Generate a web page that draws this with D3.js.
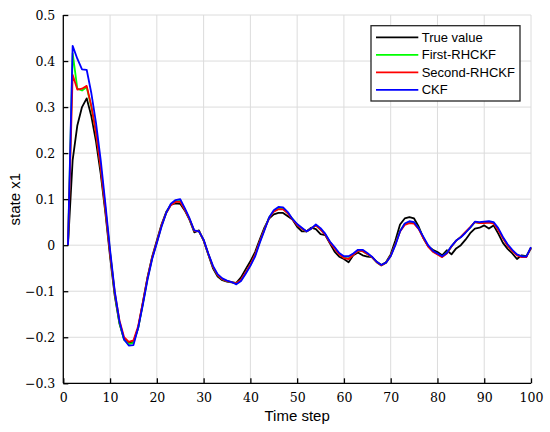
<!DOCTYPE html>
<html>
<head>
<meta charset="utf-8">
<script src="https://cdn.jsdelivr.net/npm/d3@7"></script>
<style>
  html, body { margin: 0; padding: 0; background: #fff; }
  svg { display: block; }
</style>
</head>
<body>
<svg id="chart" width="550" height="432"></svg>
<script>
// ---- Data (time steps 1..100) ----
const timeSteps = d3.range(1, 101);

const trueValue = [
  0, 0.185, 0.26, 0.30, 0.319, 0.28, 0.225, 0.155, 0.07, -0.025,
  -0.11, -0.17, -0.205, -0.213, -0.21, -0.18, -0.125, -0.07, -0.025, 0.01,
  0.045, 0.072, 0.088, 0.091, 0.09, 0.075, 0.055, 0.028, 0.032, 0.01,
  -0.02, -0.05, -0.068, -0.076, -0.079, -0.081, -0.082, -0.07, -0.052, -0.035,
  -0.015, 0.012, 0.038, 0.058, 0.067, 0.07, 0.07, 0.063, 0.056, 0.04,
  0.03, 0.03, 0.038, 0.035, 0.024, 0.022, 0.004, -0.014, -0.025, -0.03,
  -0.037, -0.022, -0.016, -0.022, -0.025, -0.026, -0.036, -0.043, -0.037, -0.02,
  0.01, 0.045, 0.058, 0.061, 0.058, 0.04, 0.015, -0.002, -0.01, -0.015,
  -0.022, -0.011, -0.02, -0.007, 0.0, 0.012, 0.026, 0.036, 0.038, 0.043,
  0.036, 0.043, 0.025, 0.005, -0.008, -0.018, -0.03, -0.022, -0.024, -0.007
];

const firstRHCKF = [
  0, 0.417, 0.34, 0.336, 0.343, 0.3, 0.245, 0.17, 0.08, -0.015,
  -0.105, -0.168, -0.205, -0.215, -0.212, -0.18, -0.128, -0.073, -0.028, 0.006,
  0.042, 0.07, 0.088, 0.095, 0.096, 0.078, 0.056, 0.031, 0.03, 0.011,
  -0.019, -0.047, -0.065, -0.074, -0.078, -0.08, -0.083, -0.076, -0.06, -0.043,
  -0.022, 0.007, 0.034, 0.06, 0.074, 0.079, 0.079, 0.07, 0.057, 0.045,
  0.036, 0.03, 0.036, 0.043, 0.034, 0.024, 0.007, -0.006, -0.019, -0.027,
  -0.029, -0.02, -0.012, -0.013, -0.019, -0.026, -0.037, -0.044, -0.038, -0.023,
  0.002, 0.031, 0.046, 0.05, 0.049, 0.036, 0.016, -0.002, -0.013, -0.019,
  -0.025, -0.017, -0.003, 0.01, 0.018, 0.028, 0.038, 0.05, 0.048, 0.049,
  0.05, 0.048, 0.034, 0.016, 0.0, -0.012, -0.021, -0.025, -0.025, -0.005
];

const secondRHCKF = [
  0, 0.37, 0.338, 0.34, 0.346, 0.302, 0.243, 0.168, 0.078, -0.018,
  -0.103, -0.163, -0.2, -0.21, -0.207, -0.176, -0.125, -0.071, -0.027, 0.007,
  0.043, 0.07, 0.087, 0.094, 0.094, 0.077, 0.056, 0.031, 0.03, 0.011,
  -0.019, -0.047, -0.065, -0.074, -0.078, -0.08, -0.083, -0.075, -0.059, -0.042,
  -0.021, 0.008, 0.034, 0.059, 0.073, 0.078, 0.078, 0.069, 0.056, 0.044,
  0.036, 0.03, 0.036, 0.043, 0.034, 0.023, 0.006, -0.007, -0.02, -0.028,
  -0.03, -0.021, -0.012, -0.013, -0.019, -0.026, -0.037, -0.044, -0.038, -0.023,
  0.002, 0.03, 0.044, 0.048, 0.047, 0.035, 0.015, -0.003, -0.014, -0.02,
  -0.026, -0.018, -0.003, 0.01, 0.018, 0.029, 0.039, 0.05, 0.048, 0.048,
  0.049, 0.047, 0.033, 0.015, -0.001, -0.013, -0.022, -0.026, -0.026, -0.005
];

const ckf = [
  0, 0.433, 0.405, 0.382, 0.381, 0.33, 0.265, 0.185, 0.09, -0.01,
  -0.10, -0.165, -0.205, -0.218, -0.217, -0.18, -0.13, -0.075, -0.03, 0.005,
  0.04, 0.07, 0.09, 0.098, 0.1, 0.08, 0.058, 0.032, 0.03, 0.012,
  -0.018, -0.045, -0.063, -0.072, -0.077, -0.08, -0.085, -0.078, -0.062, -0.045,
  -0.025, 0.005, 0.032, 0.06, 0.076, 0.083, 0.082, 0.072, 0.057, 0.046,
  0.038, 0.03, 0.036, 0.045, 0.037, 0.025, 0.008, -0.004, -0.017, -0.024,
  -0.024, -0.018, -0.01, -0.01, -0.017, -0.025, -0.036, -0.043, -0.038, -0.024,
  0.0, 0.03, 0.047, 0.052, 0.05, 0.036, 0.018, 0.0, -0.012, -0.018,
  -0.024, -0.017, -0.002, 0.01, 0.017, 0.027, 0.038, 0.051, 0.05, 0.051,
  0.052, 0.05, 0.037, 0.018, 0.002, -0.01, -0.02, -0.024, -0.025, -0.004
];

const seriesNames = ["True value", "First-RHCKF", "Second-RHCKF", "CKF"];
const seriesColors = ["#000000", "#00ff00", "#ff0000", "#0000ff"];
const xTicks = [0, 10, 20, 30, 40, 50, 60, 70, 80, 90, 100];
const yTicks = [-0.3, -0.2, -0.1, 0, 0.1, 0.2, 0.3, 0.4, 0.5];
const xLabel = "Time step";
const yLabel = "state x1";

// ---- Layout ----
const svg = d3.select("#chart");
const pL = 63.3, pR = 531, pT = 15, pB = 383.3;

const x = d3.scaleLinear().domain([0, 100]).range([pL, pR]);
const y = d3.scaleLinear().domain([-0.3, 0.5]).range([pB, pT]);

// grid
const grid = svg.append("g");
grid.selectAll("line.gx").data(xTicks.filter(d => d !== 0)).join("line")
  .attr("class", "gx")
  .attr("x1", d => x(d)).attr("x2", d => x(d))
  .attr("y1", pT).attr("y2", pB)
  .attr("stroke", "#dcdcdc").attr("stroke-width", 1);
grid.selectAll("line.gy").data(yTicks.filter(d => d !== -0.3)).join("line")
  .attr("class", "gy")
  .attr("y1", d => y(d)).attr("y2", d => y(d))
  .attr("x1", pL).attr("x2", pR)
  .attr("stroke", "#dcdcdc").attr("stroke-width", 1);

// lines
const seriesData = [trueValue, firstRHCKF, secondRHCKF, ckf];
const line = d3.line().x((d, i) => x(timeSteps[i])).y(d => y(d));
svg.append("g").selectAll("path").data(seriesData).join("path")
  .attr("d", d => line(d))
  .attr("fill", "none")
  .attr("stroke", (d, i) => seriesColors[i])
  .attr("stroke-width", 1.8)
  .attr("stroke-linejoin", "round");

// axes
const fmt = d => (d < 0 ? "\u2212" + Math.abs(d) : String(d));
const xAxis = d3.axisBottom(x).tickValues(xTicks).tickSize(-5).tickPadding(10).tickFormat(d => String(d));
const yAxis = d3.axisLeft(y).tickValues(yTicks).tickSize(-5).tickPadding(8).tickFormat(fmt);

const gx = svg.append("g").attr("transform", `translate(0,${pB})`).call(xAxis);
const gy = svg.append("g").attr("transform", `translate(${pL},0)`).call(yAxis);
[gx, gy].forEach(g => {
  g.attr("font-family", null).attr("font-size", null);
  g.select(".domain").attr("stroke", "#000").attr("stroke-width", 1.3);
  g.selectAll(".tick line").attr("stroke", "#000").attr("stroke-width", 1.3);
  g.selectAll(".tick text")
    .style("font-family", "'DejaVu Serif'")
    .style("font-size", "12.5px")
    .attr("fill", "#000");
});
gx.select(".domain").attr("d", `M${pL},0H${pR}`);
gy.select(".domain").attr("d", `M0,${pB}V${pT}`);

// axis titles
svg.append("text")
  .attr("x", (pL + pR) / 2).attr("y", 421)
  .attr("text-anchor", "middle")
  .attr("font-family", "Liberation Sans, Arial, sans-serif")
  .attr("font-size", 15).attr("fill", "#000")
  .text(xLabel);
svg.append("text")
  .attr("transform", `translate(20,${(pT + pB) / 2}) rotate(-90)`)
  .attr("text-anchor", "middle")
  .attr("font-family", "Liberation Sans, Arial, sans-serif")
  .attr("font-size", 15).attr("fill", "#000")
  .text(yLabel);

// legend
const lg = svg.append("g");
lg.append("rect")
  .attr("x", 371).attr("y", 25.7).attr("width", 149).attr("height", 75.3)
  .attr("fill", "#fff").attr("stroke", "#262626").attr("stroke-width", 1.3);
const rowY = [37.3, 54.8, 72.3, 89.8];
const items = lg.selectAll("g.item").data(seriesNames).join("g").attr("class", "item");
items.append("line")
  .attr("x1", 376).attr("x2", 418.3)
  .attr("y1", (d, i) => rowY[i]).attr("y2", (d, i) => rowY[i])
  .attr("stroke", (d, i) => seriesColors[i]).attr("stroke-width", 1.8);
items.append("text")
  .attr("x", 421.7).attr("y", (d, i) => rowY[i] + 4.6)
  .attr("font-family", "Liberation Sans, Arial, sans-serif")
  .attr("font-size", 13).attr("fill", "#000")
  .text(d => d);
</script>
</body>
</html>
